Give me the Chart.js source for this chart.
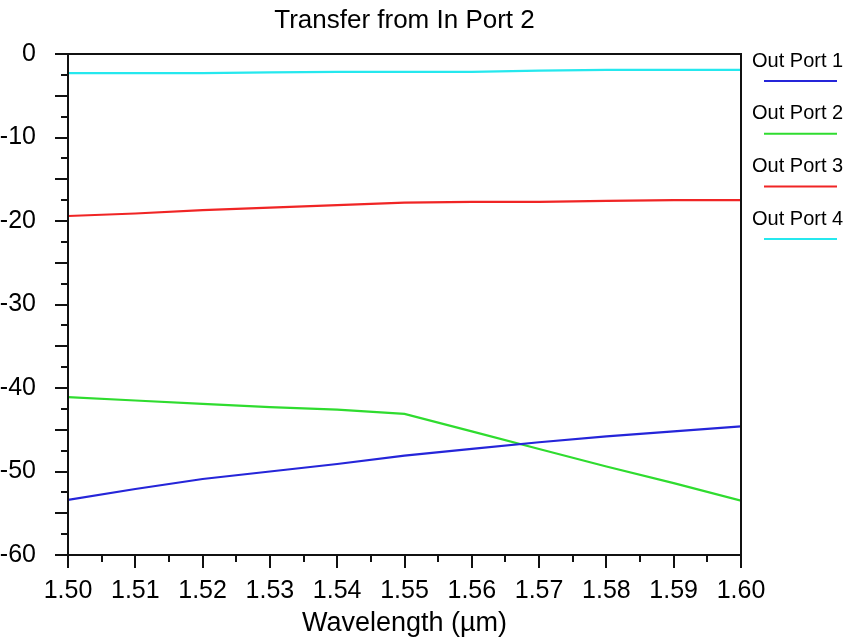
<!DOCTYPE html>
<html>
<head>
<meta charset="utf-8">
<script src="https://cdn.jsdelivr.net/npm/chart.js@4"></script>
<style>
  body { margin: 0; background: #fff; }
  canvas { display: block; }
</style>
</head>
<body>
<canvas id="transferChart" width="850" height="640"></canvas>
<script>
// Wavelength samples (µm) and transfer (dB) for each output port
const wavelengths = [1.50, 1.51, 1.52, 1.53, 1.54, 1.55, 1.56, 1.57, 1.58, 1.59, 1.60];
const outPort1 = [-53.4, -52.1, -50.9, -50.0, -49.1, -48.1, -47.3, -46.5, -45.8, -45.2, -44.6];
const outPort2 = [-41.1, -41.5, -41.9, -42.3, -42.6, -43.1, -45.2, -47.3, -49.4, -51.4, -53.5];
const outPort3 = [-19.4, -19.1, -18.7, -18.4, -18.1, -17.8, -17.7, -17.7, -17.6, -17.5, -17.5];
const outPort4 = [-2.3, -2.3, -2.3, -2.2, -2.15, -2.15, -2.15, -2.0, -1.9, -1.9, -1.9];

const seriesNames = ["Out Port 1", "Out Port 2", "Out Port 3", "Out Port 4"];
const seriesColors = ["#2525d9", "#2fdc2f", "#f02525", "#25e8ee"];

// tick marks: labels every 10 dB / 0.01 µm, marks every 2.5 dB / 0.005 µm
const yMajorTicks = [0, -5, -10, -15, -20, -25, -30, -35, -40, -45, -50, -55, -60];
const yMinorTicks = [-2.5, -7.5, -12.5, -17.5, -22.5, -27.5, -32.5, -37.5, -42.5, -47.5, -52.5, -57.5];
const xMajorTicks = [1.50, 1.51, 1.52, 1.53, 1.54, 1.55, 1.56, 1.57, 1.58, 1.59, 1.60];
const xMinorTicks = [1.505, 1.515, 1.525, 1.535, 1.545, 1.555, 1.565, 1.575, 1.585, 1.595];

const FONT = "'Liberation Sans', Arial, sans-serif";

const toPoints = (values) => values.map((v, i) => ({ x: wavelengths[i], y: v }));

// frame, tick marks and the legend with the line sample under each label
const framePlugin = {
  id: "frame",
  afterDraw(chart) {
    const { ctx, chartArea } = chart;
    const xs = chart.scales.x;
    const ys = chart.scales.y;
    ctx.save();
    ctx.strokeStyle = "#111";
    ctx.lineWidth = 2;
    ctx.strokeRect(chartArea.left, chartArea.top, chartArea.right - chartArea.left, chartArea.bottom - chartArea.top);

    ctx.beginPath();
    yMajorTicks.forEach((v) => {
      const y = Math.round(ys.getPixelForValue(v));
      ctx.moveTo(chartArea.left - 13, y);
      ctx.lineTo(chartArea.left, y);
    });
    yMinorTicks.forEach((v) => {
      const y = Math.round(ys.getPixelForValue(v));
      ctx.moveTo(chartArea.left - 7, y);
      ctx.lineTo(chartArea.left, y);
    });
    xMajorTicks.forEach((v) => {
      const x = Math.round(xs.getPixelForValue(v));
      ctx.moveTo(x, chartArea.bottom);
      ctx.lineTo(x, chartArea.bottom + 13);
    });
    xMinorTicks.forEach((v) => {
      const x = Math.round(xs.getPixelForValue(v));
      ctx.moveTo(x, chartArea.bottom);
      ctx.lineTo(x, chartArea.bottom + 7);
    });
    ctx.stroke();

    // legend
    ctx.font = "20px " + FONT;
    ctx.textAlign = "left";
    ctx.textBaseline = "middle";
    chart.data.datasets.forEach((ds, i) => {
      const top = 61 + i * 52.7;
      ctx.fillStyle = "#000";
      ctx.fillText(ds.label, 752, top);
      ctx.strokeStyle = ds.borderColor;
      ctx.lineWidth = 2;
      ctx.beginPath();
      ctx.moveTo(764, top + 20);
      ctx.lineTo(837, top + 20);
      ctx.stroke();
    });
    ctx.restore();
  },
};

const ctx = document.getElementById("transferChart").getContext("2d");

const transferChart = new Chart(ctx, {
  type: "line",
  data: {
    datasets: [outPort1, outPort2, outPort3, outPort4].map((values, i) => ({
      label: seriesNames[i],
      data: toPoints(values),
      borderColor: seriesColors[i],
      backgroundColor: seriesColors[i],
      borderWidth: 2.2,
      pointRadius: 0,
      tension: 0,
    })),
  },
  options: {
    responsive: false,
    animation: false,
    devicePixelRatio: 1,
    layout: { padding: { left: 0, right: 109, top: 0, bottom: 0 } },
    plugins: {
      legend: { display: false },
      tooltip: { enabled: false },
      title: {
        display: true,
        fullSize: false,
        text: "Transfer from In Port 2",
        color: "#000",
        font: { family: FONT, size: 26, weight: "normal", lineHeight: 1.0 },
        padding: { top: 8, bottom: 20 },
      },
    },
    scales: {
      x: {
        type: "linear",
        min: 1.5,
        max: 1.6,
        grid: { display: false },
        border: { display: false },
        ticks: {
          stepSize: 0.01,
          color: "#000",
          padding: 13,
          maxRotation: 0,
          autoSkip: false,
          font: { family: FONT, size: 25 },
          callback: (v) => Number(v).toFixed(2),
        },
        title: {
          display: true,
          text: "Wavelength (µm)",
          color: "#000",
          font: { family: FONT, size: 27, lineHeight: 1.0 },
          padding: { top: 0, bottom: 3 },
        },
        afterFit: (scale) => { scale.height = 85; },
      },
      y: {
        min: -60,
        max: 0,
        grid: { display: false },
        border: { display: false },
        ticks: {
          stepSize: 10,
          color: "#000",
          padding: 24,
          font: { family: FONT, size: 25 },
        },
        afterFit: (scale) => { scale.width = 68; },
      },
    },
  },
  plugins: [framePlugin],
});
</script>
</body>
</html>
